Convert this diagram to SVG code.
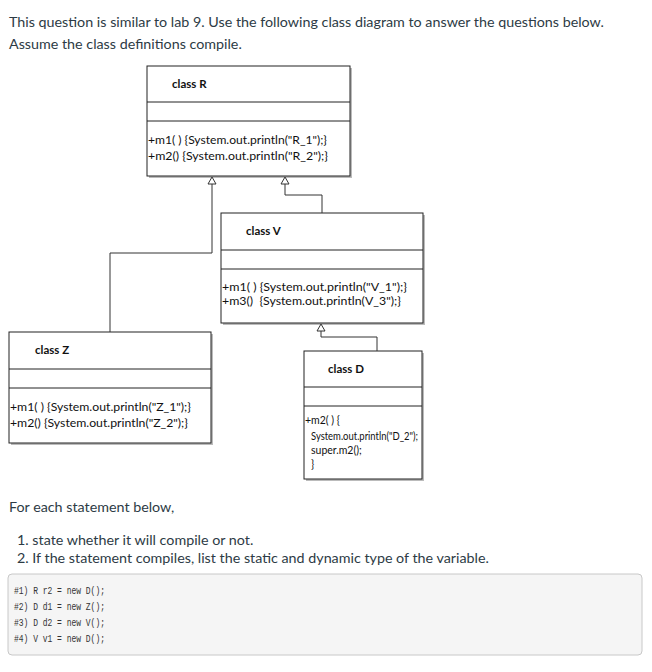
<svg xmlns="http://www.w3.org/2000/svg" width="652" height="672" viewBox="0 0 652 672">
<style>
.t{font-family:Lato,"Liberation Sans",sans-serif;font-size:14.3px;fill:#2d3b45}
.box{fill:#fff;stroke:#222;stroke-width:1}
.sh{fill:#bbb}
.div{stroke:#222;stroke-width:1}
.h{font-family:Lato,"Liberation Sans",sans-serif;font-size:11.5px;font-weight:bold;fill:#111}
.m{font-family:Lato,"Liberation Sans",sans-serif;font-size:10.5px;fill:#111}
.c{stroke:#333;stroke-width:1;fill:none}
.code{font-family:"Liberation Mono",monospace;font-size:10.5px;fill:#333}
</style>
<rect width="652" height="672" fill="#fff"/>
<text class="t" x="9" y="27">This question is similar to lab 9. Use the following class diagram to answer the questions below.</text>
<text class="t" x="9" y="49">Assume the class definitions compile.</text>

<g id="R">
<rect class="sh" x="149" y="68" width="203" height="110"/>
<rect class="box" x="147" y="66" width="203" height="110"/>
<line class="div" x1="147" y1="102" x2="350" y2="102"/>
<line class="div" x1="147" y1="121" x2="350" y2="121"/>
<text class="h" x="172" y="88">class R</text>
<text class="m" x="148" y="144" textLength="179" lengthAdjust="spacingAndGlyphs">+m1( ) {System.out.println("R_1");}</text>
<text class="m" x="148" y="160" textLength="180" lengthAdjust="spacingAndGlyphs">+m2() {System.out.println("R_2");}</text>
</g>
<g id="V">
<rect class="sh" x="223" y="215" width="202" height="110"/>
<rect class="box" x="221" y="213" width="202" height="110"/>
<line class="div" x1="221" y1="250" x2="423" y2="250"/>
<line class="div" x1="221" y1="269" x2="423" y2="269"/>
<text class="h" x="246" y="235">class V</text>
<text class="m" x="222" y="291" textLength="185" lengthAdjust="spacingAndGlyphs">+m1( ) {System.out.println("V_1");}</text>
<text class="m" x="222" y="305" xml:space="preserve" textLength="179" lengthAdjust="spacingAndGlyphs">+m3()  {System.out.println(V_3");}</text>
</g>
<g id="Z">
<rect class="sh" x="11" y="334" width="202" height="111"/>
<rect class="box" x="9" y="332" width="202" height="111"/>
<line class="div" x1="9" y1="369" x2="211" y2="369"/>
<line class="div" x1="9" y1="388" x2="211" y2="388"/>
<text class="h" x="35" y="354">class Z</text>
<text class="m" x="10" y="411" textLength="181" lengthAdjust="spacingAndGlyphs">+m1( ) {System.out.println("Z_1");}</text>
<text class="m" x="10" y="427" textLength="178" lengthAdjust="spacingAndGlyphs">+m2() {System.out.println("Z_2");}</text>
</g>
<g id="D">
<rect class="sh" x="306" y="353" width="118" height="128"/>
<rect class="box" x="304" y="351" width="118" height="128"/>
<line class="div" x1="304" y1="387" x2="422" y2="387"/>
<line class="div" x1="304" y1="406" x2="422" y2="406"/>
<text class="h" x="328" y="373">class D</text>
<text class="m" x="305" y="424">+m2( ) {</text>
<text class="m" x="311" y="440" textLength="107" lengthAdjust="spacingAndGlyphs">System.out.println("D_2");</text>
<text class="m" x="311" y="454">super.m2();</text>
<text class="m" x="311" y="468">}</text>
</g>
<g id="connectors">
<polyline class="c" points="110,332 110,253 212,253 212,183"/>
<polygon points="212,177 208,184 216,184" fill="#fff" stroke="#333"/>
<polyline class="c" points="322,213 322,195 285,195 285,183"/>
<polygon points="285,177 281,184 289,184" fill="#fff" stroke="#333"/>
<polyline class="c" points="377,351 377,337 321,337 321,330"/>
<polygon points="321,324 317,331 325,331" fill="#fff" stroke="#333"/>
</g>
<text class="t" x="9" y="512">For each statement below,</text>
<text class="t" x="17" y="545">1. state whether it will compile or not.</text>
<text class="t" x="17" y="563">2. If the statement compiles, list the static and dynamic type of the variable.</text>
<rect x="8" y="574" width="634" height="81" rx="4" fill="#f5f5f5" stroke="#c8c8c8"/>
<text class="code" x="14" y="594" textLength="91" lengthAdjust="spacingAndGlyphs">#1) R r2 = new D();</text>
<text class="code" x="14" y="610" textLength="91" lengthAdjust="spacingAndGlyphs">#2) D d1 = new Z();</text>
<text class="code" x="14" y="626" textLength="91" lengthAdjust="spacingAndGlyphs">#3) D d2 = new V();</text>
<text class="code" x="14" y="642" textLength="91" lengthAdjust="spacingAndGlyphs">#4) V v1 = new D();</text>
</svg>
